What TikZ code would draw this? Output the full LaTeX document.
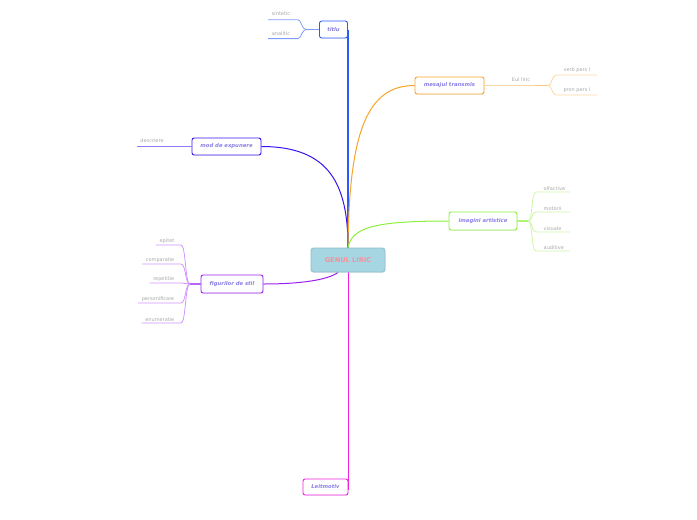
\documentclass[tikz,border=0pt]{standalone}
\usepackage{fontspec}
\setmainfont{DejaVu Sans}
\usetikzlibrary{shadows,backgrounds}
\definecolor{lineTitlu}{RGB}{40,90,255}
\definecolor{cbluel}{HTML}{7F9BFF}
\definecolor{corange}{HTML}{F7A52A}
\definecolor{corangel}{HTML}{FCD7A2}
\definecolor{cindigo}{HTML}{3A14EE}
\definecolor{cindigol}{HTML}{8C7BFF}
\definecolor{cgreen}{HTML}{8CF03A}
\definecolor{cgreenl}{HTML}{CDF6A6}
\definecolor{cpurple}{HTML}{9A22F0}
\definecolor{cpurplel}{HTML}{D294FF}
\definecolor{cmagenta}{HTML}{F022E0}
\definecolor{ctext}{HTML}{8A80E6}
\definecolor{cchild}{HTML}{A8A8A8}
\definecolor{crootfill}{HTML}{A6D6E2}
\definecolor{crootdraw}{HTML}{8EBFCC}
\definecolor{croottext}{HTML}{F0939F}
\tikzset{
  mainbox/.style={draw, line width=0.9pt, rounded corners=2.2pt, fill=white,
    text=ctext, font=\fontsize{5.3}{6}\selectfont\bfseries\itshape,
    minimum height=17pt, inner sep=1pt,
    drop shadow={opacity=0.12, shadow xshift=0.6pt, shadow yshift=-0.8pt}},
  rootbox/.style={draw=crootdraw, line width=0.8pt, rounded corners=2.5pt, fill=crootfill,
    text=croottext, font=\fontsize{6.6}{7}\selectfont\bfseries,
    minimum width=74pt, minimum height=24pt, inner sep=1pt,
    drop shadow={opacity=0.15, shadow xshift=0.6pt, shadow yshift=-0.8pt}},
  child/.style={text=cchild, font=\fontsize{5}{6}\selectfont, inner sep=0.5pt},
  conn/.style={line width=1pt},
  sub/.style={line width=0.8pt},
}
\begin{document}
\begin{tikzpicture}[x=1pt,y=-1pt]
\useasboundingbox (0,0) rectangle (697,520);

% ---------- main nodes ----------
\node[rootbox] (root) at (348,260) {GENUL LIRIC};
\node[mainbox, draw=lineTitlu, minimum width=28pt] (titlu) at (333.5,29.5) {titlu};
\node[mainbox, draw=corange, minimum width=69pt] (mesaj) at (449.5,85.5) {mesajul transmis};
\node[mainbox, draw=cindigo, minimum width=69pt] (mod) at (226.5,146.5) {mod de expunere};
\node[mainbox, draw=cgreen, minimum width=68pt, minimum height=18pt] (imag) at (483,221) {imagini artistice};
\node[mainbox, draw=cpurple, minimum width=62pt, minimum height=18pt] (fig) at (232,284) {figurilor de stil};
\node[mainbox, draw=cmagenta, minimum width=45pt, minimum height=16pt] (leit) at (325.5,487) {Leitmotiv};

\begin{scope}[on background layer]
% ---------- main connectors ----------
\draw[conn, draw=cindigo] (mod.east) .. controls (330,146.5) and (348,185) .. (root.north);
\draw[line width=1.1pt, draw=lineTitlu] (titlu.east) -- (titlu.east |- root.north);
\draw[conn, draw=corange] (root.north) .. controls (349,130) and (368,85.5) .. (mesaj.west);
\draw[conn, draw=cgreen] (root.north) .. controls (352,228) and (372,221) .. (imag.west);
\draw[conn, draw=cpurple] (fig.east) .. controls (300,284) and (328,280) .. ([xshift=-10pt]root.south);
\draw[conn, draw=cmagenta] (root.south) -- (root.south |- leit.north);

% ---------- titlu children ----------
\coordinate (tj) at (306,29.5);
\coordinate (sintA) at (298,19.7); \coordinate (sintB) at (268,19.7);
\coordinate (analA) at (298,38.6); \coordinate (analB) at (268,38.6);
\draw[sub, cbluel] (titlu.west) -- (tj);
\draw[sub, cbluel] (tj) .. controls (302,29.5) and (301,19.7) .. (sintA) -- (sintB);
\draw[sub, cbluel] (tj) .. controls (302,29.5) and (301,38.6) .. (analA) -- (analB);
\end{scope}
\draw[conn, draw=cmagenta] (leit.north -| root.south) -- ([yshift=-3pt]leit.east -| root.south);
\node[child] (sint) at (281,14) {sintetic};
\node[child] (anal) at (281,34) {analitic};

% ---------- mesaj children ----------
\node[child] (eul) at (521,80) {Eul liric};
\coordinate (eulR) at (535,85.5);
\coordinate (mj) at (548,85.5);
\draw[sub, corangel] (mesaj.east) -- (eulR);
\draw[line width=1.2pt, corange!60] (eulR) -- (mj);
\node[child] (verb) at (577,70) {verb pers I};
\node[child] (pron) at (577,90) {pron pers I};
\coordinate (verbA) at (556,75); \coordinate (verbB) at (597,75);
\coordinate (pronA) at (556,95); \coordinate (pronB) at (597,95);
\draw[sub, corangel] (mj) .. controls (552,85.5) and (552,75) .. (verbA) -- (verbB);
\draw[sub, corangel] (mj) .. controls (552,85.5) and (552,95) .. (pronA) -- (pronB);

% ---------- mod children ----------
\node[child] (desc) at (152,141) {descriere};
\coordinate (descB) at (137,146.5);
\draw[sub, cindigol] (mod.west) -- (descB);

% ---------- imagini children ----------
\coordinate (ij) at (528,221);
\draw[line width=1.2pt, cgreen!70] (imag.east) -- (ij);
\foreach \nm/\txt/\yy in {olf/olfactive/192, mot/motorii/212, viz/vizuale/232, aud/auditive/251}{
  \node[child, anchor=south west] (\nm) at (543,\yy-1.2) {\txt};
  \coordinate (\nm A) at (536,\yy);
  \coordinate (\nm B) at (570,\yy);
  \draw[sub, cgreenl] (ij) .. controls (533,221) and (531,\yy) .. (\nm A) -- (\nm B);
}

% ---------- figurilor children ----------
\coordinate (fj) at (190,284);
\draw[line width=1.2pt, cpurple!70] (fig.west) -- (fj);
\foreach \nm/\txt/\yy in {epi/epitet/245, comp/comparatie/264, rep/repetitie/283, pers/personificare/303, enu/enumeratie/323}{
  \node[child, anchor=south east] (\nm) at (175,\yy-1.2) {\txt};
  \coordinate (\nm A) at (181,\yy);
  \coordinate (\nm B) at ([xshift=-3pt]\nm.west |- \nm A);
  \draw[sub, cpurplel] (fj) .. controls (185,284) and (186,\yy) .. (\nm A) -- (\nm B);
}
\end{tikzpicture}
\end{document}
